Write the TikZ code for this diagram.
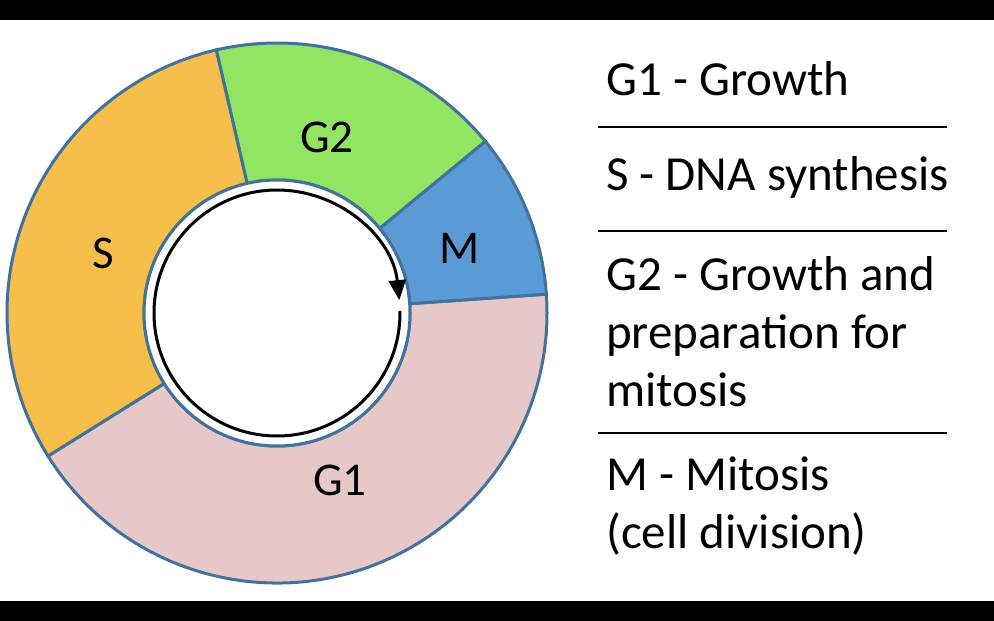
\documentclass[tikz,border=0pt]{standalone}
\usepackage{fontspec}
\setmainfont{Carlito}
\usetikzlibrary{arrows.meta}
\definecolor{sC}{HTML}{F6BE4A}
\definecolor{gtC}{HTML}{92E463}
\definecolor{mC}{HTML}{5B9BD5}
\definecolor{goC}{HTML}{E6C8C8}
\definecolor{edgeC}{HTML}{41719C}
\begin{document}
\begin{tikzpicture}[x=1pt,y=-1pt,
  seg/.style={draw=edgeC,line width=3pt},
  lab/.style={font=\fontsize{47}{56}\selectfont,inner sep=0pt},
  leg/.style={font=\fontsize{49}{58}\selectfont,anchor=base west,inner sep=0pt},
  rule/.style={draw=black,line width=1.3pt}]
\useasboundingbox (0,0) rectangle (994,621);
\fill[black] (0,0) rectangle (994,20);
\fill[black] (0,601) rectangle (994,621);
\coordinate (c) at (277,313);
\def\Ro{270}\def\Ri{133}
\foreach \col/\a/\b in {goC/-148/4, mC/4/39.5, gtC/39.5/103, sC/103/212}{
  \filldraw[seg,fill=\col] (277,313) ++({cos(\a)*\Ro},{-sin(\a)*\Ro})
    arc[start angle=-\a,end angle=-\b,radius=\Ro]
    -- ({277+cos(\b)*\Ri},{313-sin(\b)*\Ri})
    arc[start angle=-\b,end angle=-\a,radius=\Ri] -- cycle;
}
\draw[edgeC,line width=3pt,fill=white] (c) circle[radius=\Ri];
\draw[line width=3pt,-{Triangle[length=20pt,width=17pt]}] (277,313) ++({cos(1)*123},{-sin(1)*123})
  arc[start angle=-1,end angle=354,radius=123];
\node[lab] (s) at (103,253) {S};
\node[lab] (g2) at (327,137) {G2};
\node[lab] (m) at (460,248) {M};
\node[lab] (g1) at (340,480) {G1};
\node[leg] (l1) at (606,95) {G1 - Growth};
\node[leg] (l2) at (606,190) {S - DNA synthesis};
\node[leg] (l3a) at (606,290) {G2 - Growth and};
\node[leg] (l3b) at (606,348) {preparation for};
\node[leg] (l3c) at (606,406) {mitosis};
\node[leg] (l4a) at (606,490) {M - Mitosis};
\node[leg] (l4b) at (606,548) {(cell division)};
\draw[rule] (598,127) -- (947,127);
\draw[rule] (598,231) -- (947,231);
\draw[rule] (598,433) -- (947,433);
\end{tikzpicture}
\end{document}
